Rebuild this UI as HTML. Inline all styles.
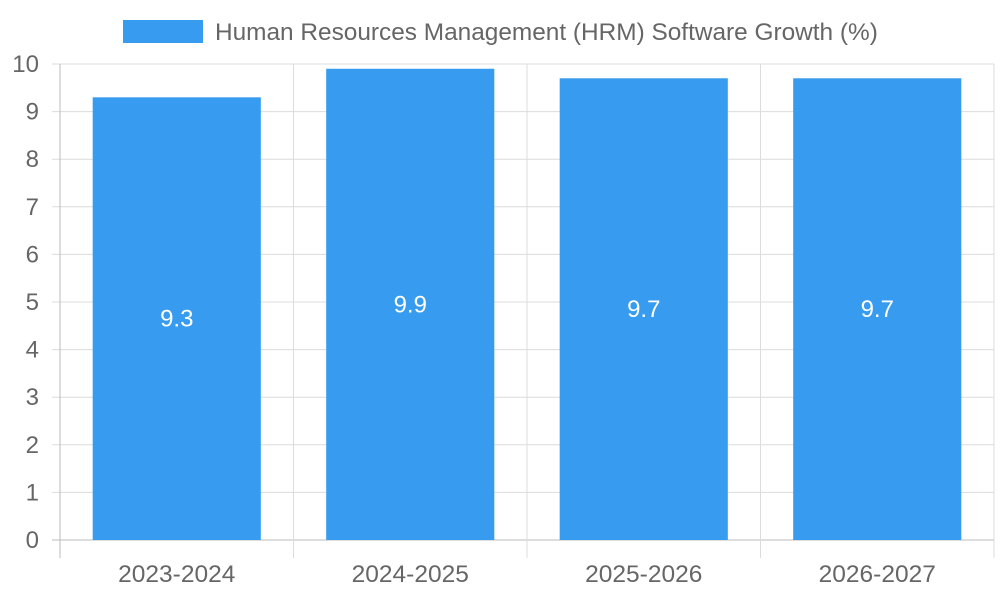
<!DOCTYPE html>
<html><head><meta charset="utf-8"><style>
html,body{margin:0;padding:0;background:#fff;}
svg{display:block;font-family:"Liberation Sans",Arial,sans-serif;}
</style></head><body>
<svg id="chart" width="1000" height="600" viewBox="0 0 1000 600">
<g>
<rect x="123" y="20" width="80" height="23" fill="#379bf0"/>
<text x="215" y="40" font-size="24.4" fill="#666">Human Resources Management (HRM) Software Growth (%)</text>
</g>
<g id="grid"></g>
<g id="bars"></g>
<g id="axes"></g>
</svg>
<script>
const categories = ["2023-2024","2024-2025","2025-2026","2026-2027"];
const values = [9.3, 9.9, 9.7, 9.7];
const yTicks = [0,1,2,3,4,5,6,7,8,9,10];
const NS="http://www.w3.org/2000/svg";
const L=60,R=994,T=64,B=540,yMax=10;
const y=v=>B-(v/yMax)*(B-T);
const band=(R-L)/categories.length;
const x=i=>L+i*band;
function mk(tag,attrs,parent,txt){const e=document.createElementNS(NS,tag);for(const k in attrs)e.setAttribute(k,attrs[k]);if(txt!==undefined)e.textContent=txt;parent.appendChild(e);return e;}
const grid=document.getElementById('grid'),bars=document.getElementById('bars'),axes=document.getElementById('axes');
yTicks.forEach(t=>{
 const ln=mk('line',{x1:L-8,x2:R,y1:y(t),y2:y(t),stroke:t===0?'#bbb':'#dcdcdc','stroke-width':1},grid);
 
 
 const tx=mk('text',{x:L-21,y:y(t)+8,'font-size':24,fill:'#666','text-anchor':'end'},axes,String(t));
 
 
});
for(let i=0;i<=categories.length;i++){
 const ln=mk('line',{x1:x(i),x2:x(i),y1:T,y2:B+18,stroke:(i===0)?'#bbb':'#dcdcdc','stroke-width':1},grid);
 
 
}
categories.forEach((c,i)=>{
 const bw=band*0.72, cx=x(i)+band/2;
 const r=mk('rect',{x:cx-bw/2,y:y(values[i]),width:bw,height:B-y(values[i]),fill:'#379bf0'},bars);
 
 
 const v=mk('text',{x:cx,y:(y(values[i])+B)/2+8,'font-size':24,fill:'#fff','text-anchor':'middle'},bars,String(values[i]));
 
 
 const t=mk('text',{x:cx,y:582,'font-size':24.5,fill:'#666','text-anchor':'middle'},axes,c);
 
 
});
</script>
</body></html>
